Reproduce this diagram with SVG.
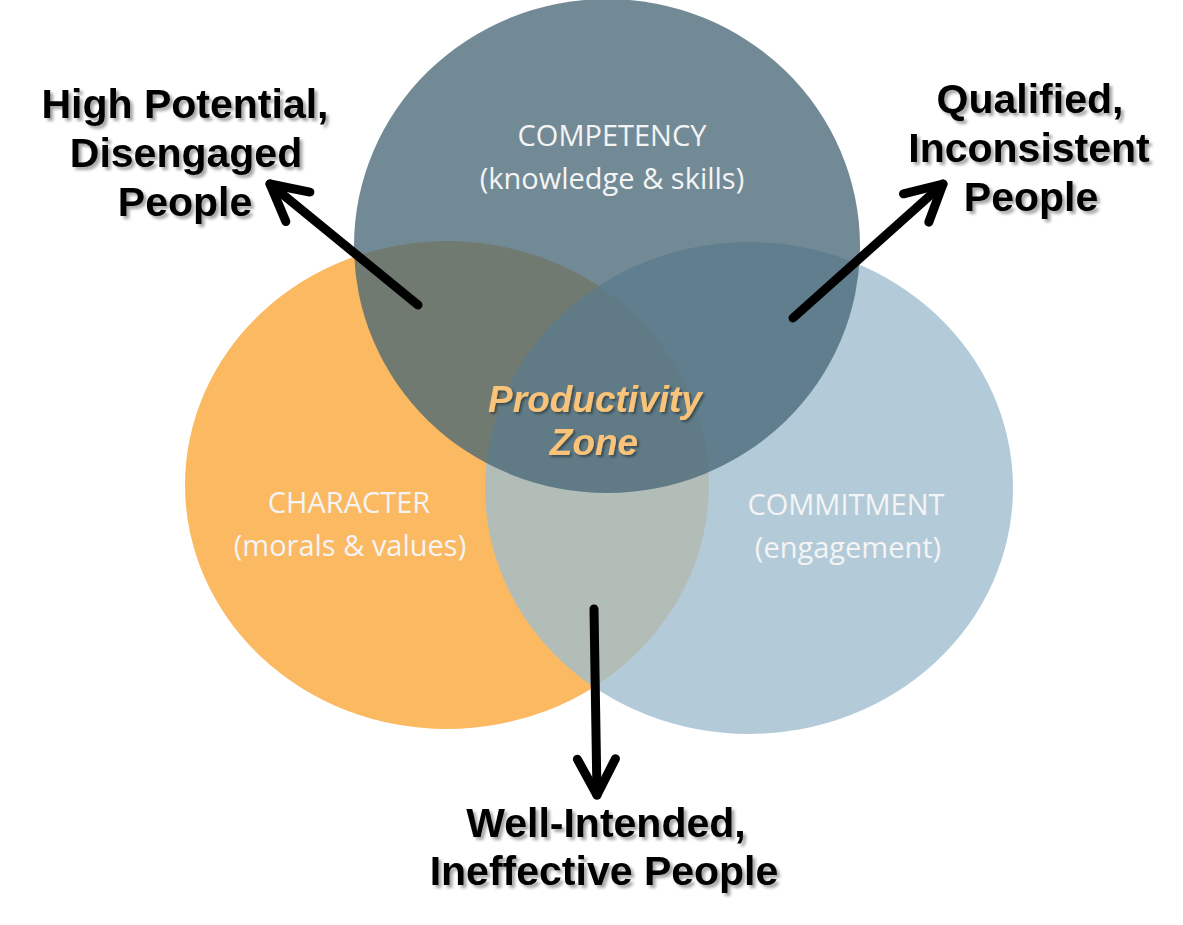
<svg xmlns="http://www.w3.org/2000/svg" width="1183" height="925" viewBox="0 0 1183 925">
  <defs>
    <style>
      .circle-label { font-family: "Open Sans", "Liberation Sans", sans-serif; font-size: 29px; fill: #F4F4F4; text-anchor: middle; }
      .outcome { font-family: "Liberation Sans", Arial, sans-serif; font-size: 41px; font-weight: bold; fill: #000000; text-anchor: middle; filter: url(#softShadow); }
      .zone { font-family: "Liberation Sans", Arial, sans-serif; font-size: 37px; font-weight: bold; font-style: italic; fill: #FAC37A; text-anchor: middle; filter: url(#zoneShadow); }
      .arrow { fill: none; stroke: #000000; stroke-width: 9; stroke-linecap: round; stroke-linejoin: round; }
    </style>
    <filter id="softShadow" x="-10%" y="-30%" width="125%" height="170%">
      <feDropShadow dx="3" dy="3" stdDeviation="1.6" flood-color="#000000" flood-opacity="0.35"/>
    </filter>
    <filter id="zoneShadow" x="-10%" y="-30%" width="125%" height="170%">
      <feDropShadow dx="2" dy="2" stdDeviation="1.2" flood-color="#1c2a33" flood-opacity="0.6"/>
    </filter>
    <marker id="chevron" markerUnits="userSpaceOnUse" orient="auto" refX="0" refY="0" markerWidth="60" markerHeight="60" viewBox="-45 -30 60 60" overflow="visible">
      <path d="M -36 -19 L 0 0 L -36 19" fill="none" stroke="#000000" stroke-width="9" stroke-linecap="round" stroke-linejoin="round"/>
    </marker>
  </defs>

  <rect x="0" y="0" width="1183" height="925" fill="#FFFFFF"/>

  <g id="node-character">
    <ellipse cx="447" cy="485" rx="262" ry="244" fill="#FBB962"/>
    <text class="circle-label" x="349" y="513">CHARACTER</text>
    <text class="circle-label" x="350" y="556">(morals &amp; values)</text>
  </g>

  <g id="node-commitment">
    <ellipse cx="749" cy="488" rx="264" ry="246" fill="#A0BECE" fill-opacity="0.8"/>
    <text class="circle-label" x="846" y="515">COMMITMENT</text>
    <text class="circle-label" x="848" y="558">(engagement)</text>
  </g>

  <g id="node-competency">
    <ellipse cx="607" cy="246" rx="253" ry="247" fill="#476777" fill-opacity="0.77"/>
    <text class="circle-label" x="612" y="146">COMPETENCY</text>
    <text class="circle-label" x="612" y="189">(knowledge &amp; skills)</text>
  </g>

  <g id="node-productivity-zone">
    <text class="zone" x="595" y="412">Productivity</text>
    <text class="zone" x="594" y="455">Zone</text>
  </g>

  <g id="connectors">
    <path class="arrow" d="M 418 305 L 270 184" marker-end="url(#chevron)"/>
    <path class="arrow" d="M 793 318 L 943 184" marker-end="url(#chevron)"/>
    <path class="arrow" d="M 594 609 L 597 795" marker-end="url(#chevron)"/>
  </g>

  <g id="node-high-potential">
    <text class="outcome" x="185" y="118">High Potential,</text>
    <text class="outcome" x="186" y="167">Disengaged</text>
    <text class="outcome" x="185" y="216">People</text>
  </g>

  <g id="node-qualified">
    <text class="outcome" x="1030" y="113">Qualified,</text>
    <text class="outcome" x="1029" y="162">Inconsistent</text>
    <text class="outcome" x="1031" y="211">People</text>
  </g>

  <g id="node-well-intended">
    <text class="outcome" x="606" y="837">Well-Intended,</text>
    <text class="outcome" x="604" y="885">Ineffective People</text>
  </g>
</svg>
